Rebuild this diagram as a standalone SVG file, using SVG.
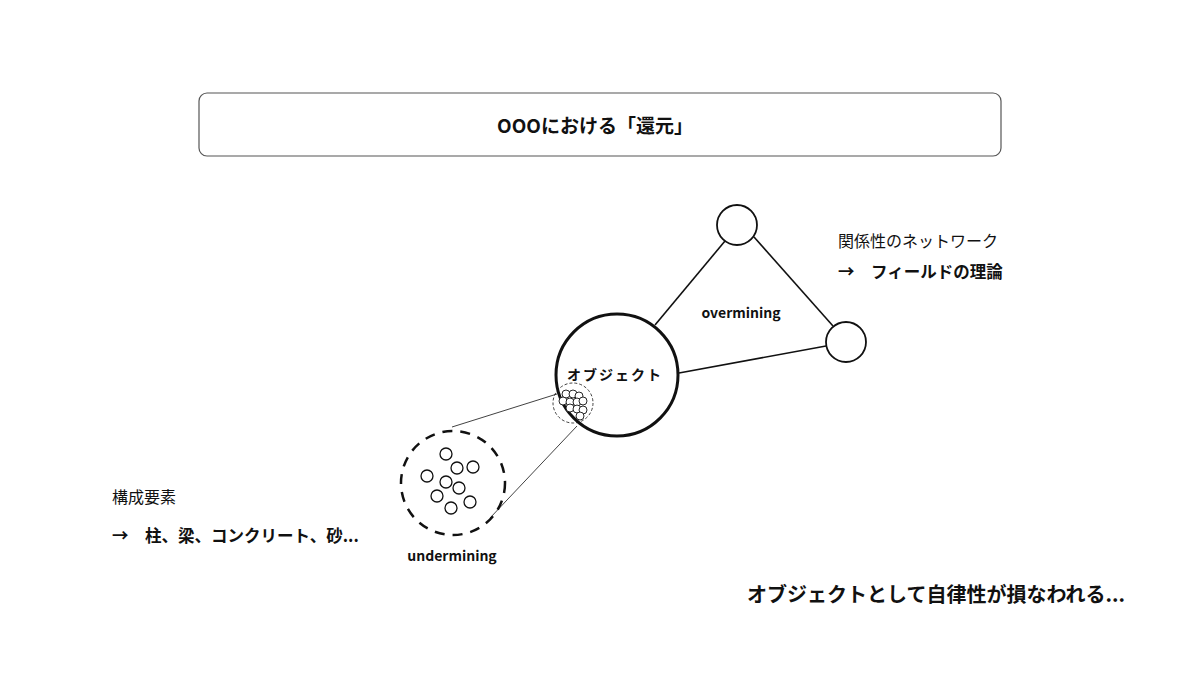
<svg xmlns="http://www.w3.org/2000/svg" width="1200" height="675" viewBox="0 0 1200 675">
<style>
text{font-family:"Noto Sans CJK JP","Noto Sans",sans-serif;fill:#111}
.b{font-weight:bold}
.c{fill:#fff;stroke:#111}
</style>
<rect width="1200" height="675" fill="#fff"/>
<g id="title"><rect x="199" y="93" width="802" height="63" rx="8" fill="#fff" stroke="#555" stroke-width="1.2"/>
<text x="595" y="133" text-anchor="middle" font-size="19" class="b">OOOにおける「還元」</text></g>
<g id="connectors" stroke="#111">
<line x1="655" y1="325" x2="725" y2="241" stroke-width="1.6"/>
<line x1="754" y1="237" x2="833" y2="326" stroke-width="1.6"/>
<line x1="679" y1="373" x2="826" y2="346" stroke-width="1.6"/>
<line x1="557" y1="394" x2="452" y2="427" stroke-width="0.8"/>
<line x1="577" y1="426" x2="490" y2="518" stroke-width="0.8"/>
</g>
<g id="object"><circle cx="617" cy="375" r="61" class="c" stroke-width="3"/>
<text x="615" y="380" text-anchor="middle" font-size="14" class="b" letter-spacing="2">オブジェクト</text></g>
<g id="node-top"><circle cx="737" cy="225" r="20" class="c" stroke-width="1.8"/></g>
<g id="node-right"><circle cx="846" cy="342" r="20" class="c" stroke-width="1.8"/></g>
<g id="overmining"><text x="741" y="318" text-anchor="middle" font-size="14" class="b">overmining</text></g>
<g id="zoom-small"><circle cx="573" cy="403" r="20" fill="none" stroke="#111" stroke-width="0.8" stroke-dasharray="3,2"/>
<g class="c" stroke-width="0.9">
<circle cx="566" cy="394" r="4"/><circle cx="573" cy="394" r="4"/><circle cx="579" cy="396" r="4"/>
<circle cx="563" cy="401" r="4"/><circle cx="570" cy="402" r="4"/><circle cx="577" cy="402" r="4"/><circle cx="583" cy="401" r="4"/>
<circle cx="570" cy="408" r="4"/><circle cx="577" cy="409" r="4"/><circle cx="583" cy="410" r="4"/><circle cx="580" cy="416" r="4"/>
</g></g>
<g id="zoom-large"><circle cx="453" cy="483" r="52" fill="none" stroke="#111" stroke-width="2.5" stroke-dasharray="10,8"/>
<g class="c" stroke-width="1.3">
<circle cx="446" cy="454" r="6"/><circle cx="457" cy="468" r="6"/><circle cx="473" cy="467" r="6"/>
<circle cx="427" cy="476" r="6"/><circle cx="446" cy="482" r="6"/><circle cx="459" cy="488" r="6"/>
<circle cx="437" cy="496" r="6"/><circle cx="470" cy="502" r="6"/><circle cx="451" cy="508" r="6"/>
</g>
<text x="452" y="561" text-anchor="middle" font-size="14" class="b">undermining</text></g>
<g id="network-label"><text x="838" y="247" font-size="16">関係性のネットワーク</text>
<text x="838" y="278" font-size="16.5" class="b">→　フィールドの理論</text></g>
<g id="components-label"><text x="112" y="503" font-size="16">構成要素</text>
<text x="112" y="542" font-size="16.5" class="b">→　柱、梁、コンクリート、砂...</text></g>
<g id="conclusion"><text x="1125" y="602" text-anchor="end" font-size="20" class="b">オブジェクトとして自律性が損なわれる...</text></g>
</svg>
